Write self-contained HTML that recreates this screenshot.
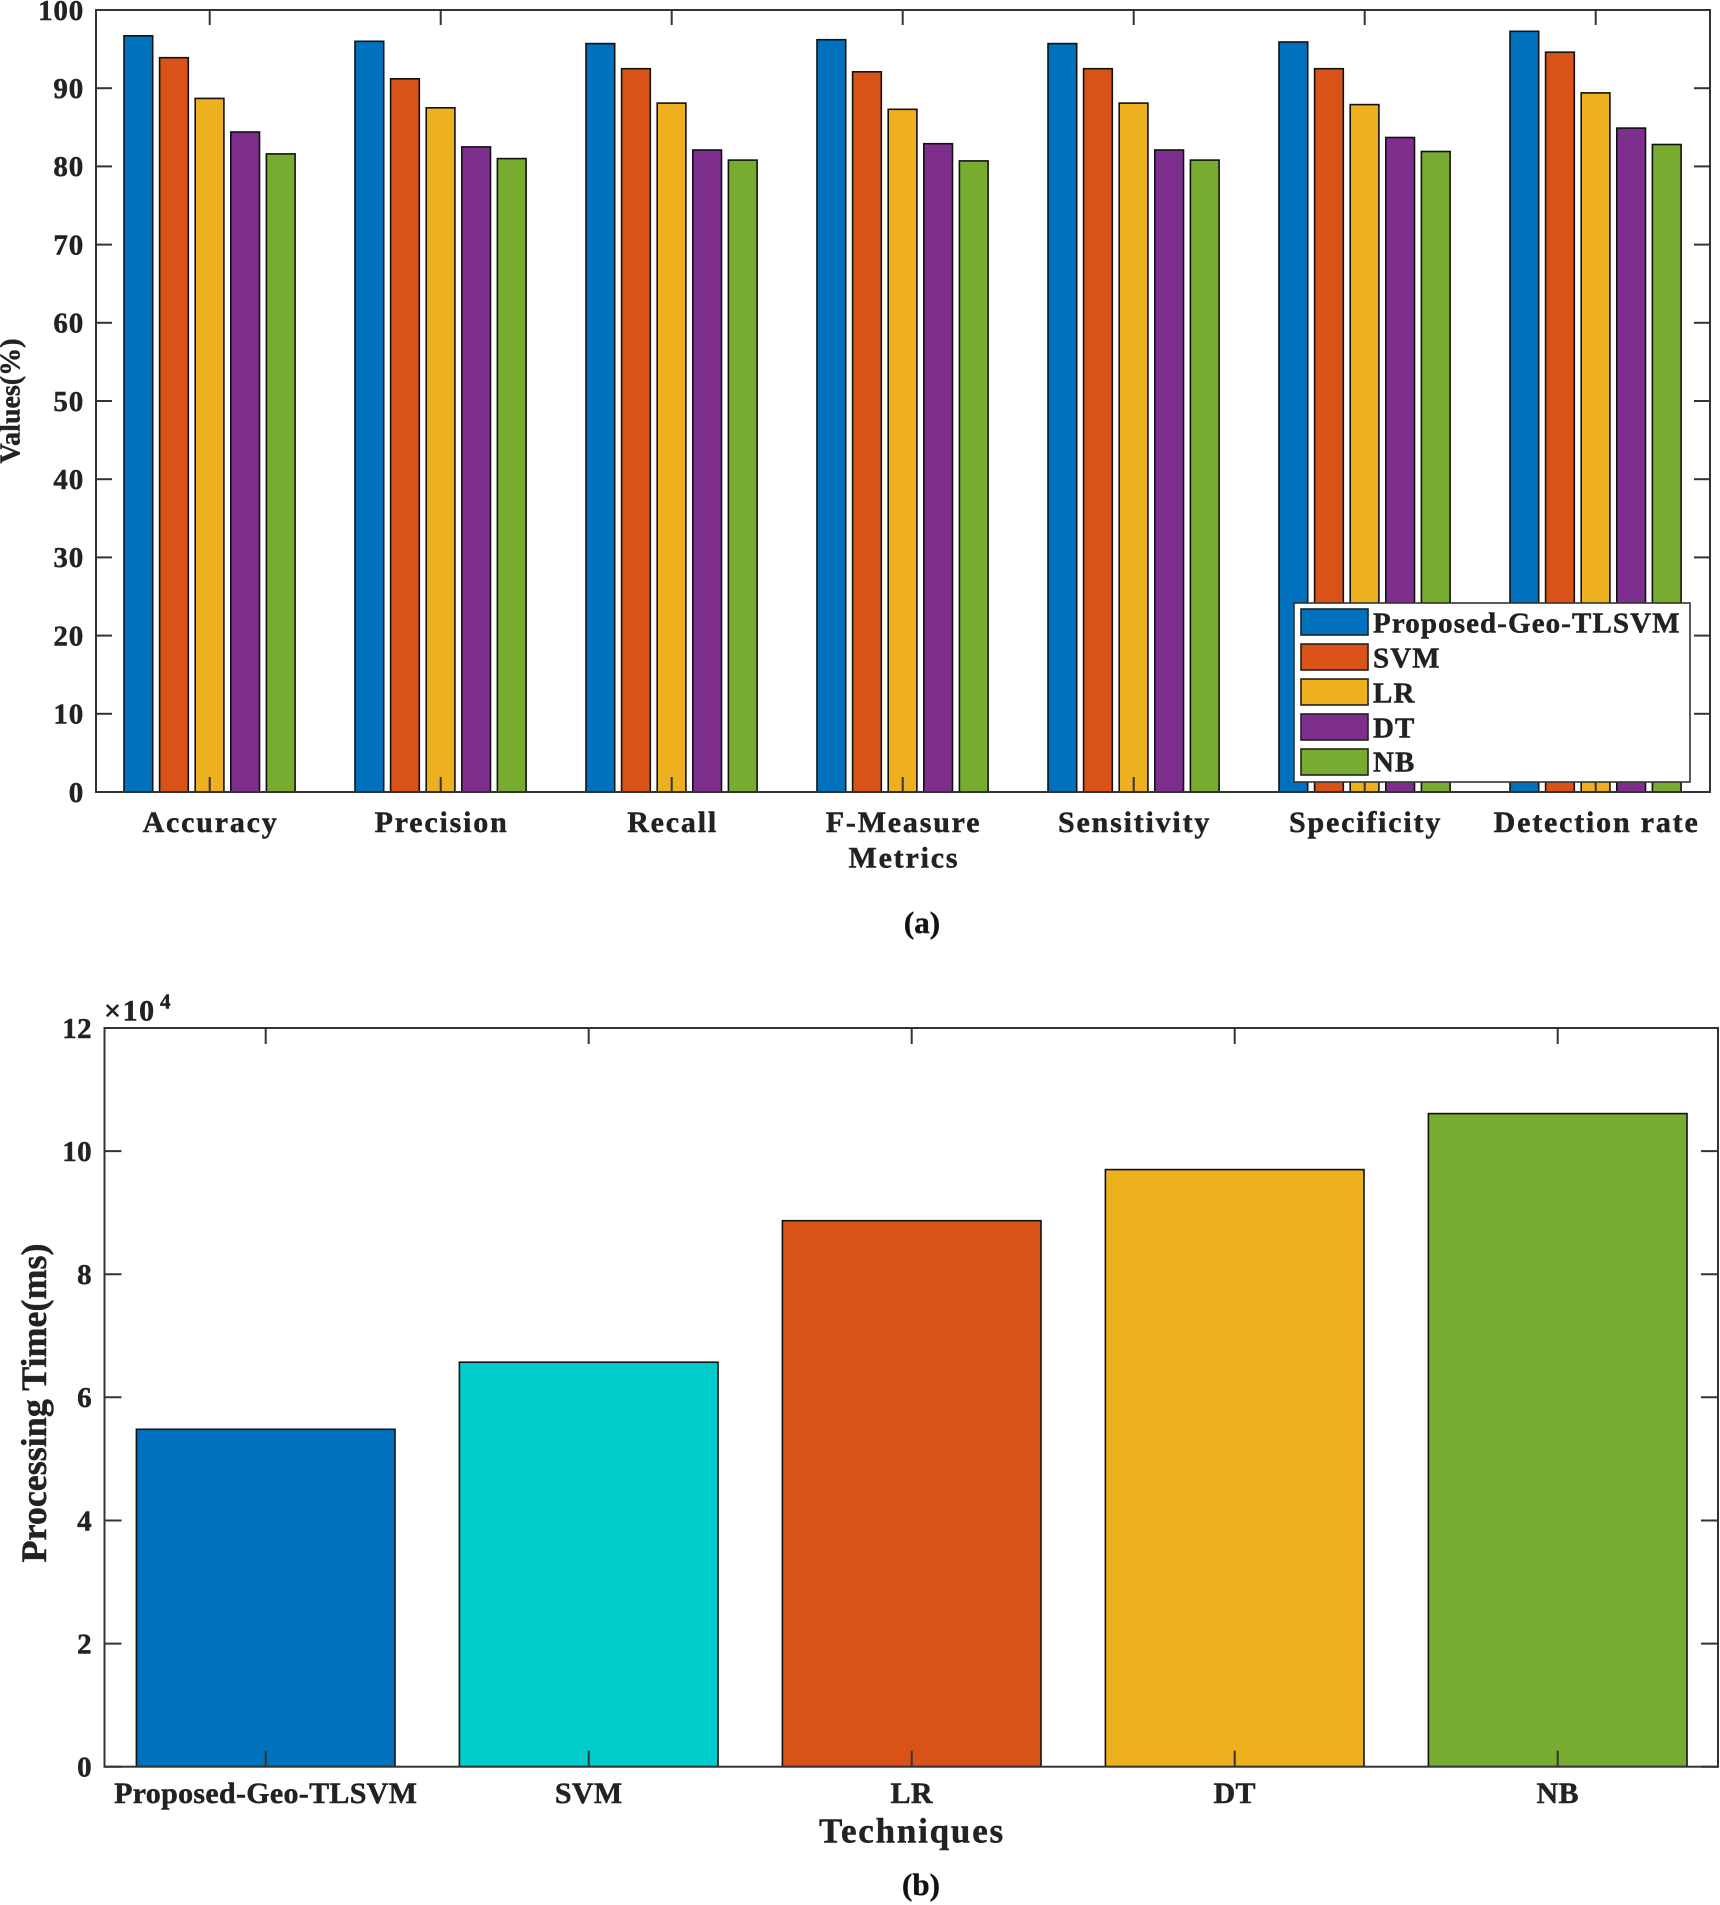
<!DOCTYPE html>
<html>
<head>
<meta charset="utf-8">
<style>
html,body{margin:0;padding:0;background:#fff;}
svg{display:block;}
text{font-family:"Liberation Serif","Times New Roman",serif;font-weight:bold;fill:#222;stroke:#222;stroke-width:0.45;}
</style>
</head>
<body>
<svg width="1720" height="1905" viewBox="0 0 1720 1905" xmlns="http://www.w3.org/2000/svg">
<rect x="0" y="0" width="1720" height="1905" fill="#fff"/>

<!-- ================= TOP CHART (a) ================= -->
<g stroke="#111" stroke-width="1.6">
<!-- Accuracy c=209.7 -->
<rect x="124.0" y="35.8" width="28.7" height="756.2" fill="#0072BD"/>
<rect x="159.6" y="57.7" width="28.7" height="734.3" fill="#D95319"/>
<rect x="195.2" y="98.4" width="28.7" height="693.6" fill="#EDB120"/>
<rect x="230.8" y="132.0" width="28.7" height="660.0" fill="#7E2F8E"/>
<rect x="266.4" y="153.9" width="28.7" height="638.1" fill="#77AC30"/>
<!-- Precision c=440.7 -->
<rect x="355.0" y="41.3" width="28.7" height="750.7" fill="#0072BD"/>
<rect x="390.6" y="78.8" width="28.7" height="713.2" fill="#D95319"/>
<rect x="426.2" y="107.8" width="28.7" height="684.2" fill="#EDB120"/>
<rect x="461.8" y="146.9" width="28.7" height="645.1" fill="#7E2F8E"/>
<rect x="497.4" y="158.6" width="28.7" height="633.4" fill="#77AC30"/>
<!-- Recall c=671.7 -->
<rect x="586.0" y="43.6" width="28.7" height="748.4" fill="#0072BD"/>
<rect x="621.6" y="68.7" width="28.7" height="723.3" fill="#D95319"/>
<rect x="657.2" y="103.1" width="28.7" height="688.9" fill="#EDB120"/>
<rect x="692.8" y="150.0" width="28.7" height="642.0" fill="#7E2F8E"/>
<rect x="728.4" y="160.1" width="28.7" height="631.9" fill="#77AC30"/>
<!-- F-Measure c=902.7 -->
<rect x="817.0" y="39.7" width="28.7" height="752.3" fill="#0072BD"/>
<rect x="852.6" y="71.8" width="28.7" height="720.2" fill="#D95319"/>
<rect x="888.2" y="109.3" width="28.7" height="682.7" fill="#EDB120"/>
<rect x="923.8" y="143.7" width="28.7" height="648.3" fill="#7E2F8E"/>
<rect x="959.4" y="160.9" width="28.7" height="631.1" fill="#77AC30"/>
<!-- Sensitivity c=1133.7 -->
<rect x="1048.0" y="43.6" width="28.7" height="748.4" fill="#0072BD"/>
<rect x="1083.6" y="68.7" width="28.7" height="723.3" fill="#D95319"/>
<rect x="1119.2" y="103.1" width="28.7" height="688.9" fill="#EDB120"/>
<rect x="1154.8" y="150.0" width="28.7" height="642.0" fill="#7E2F8E"/>
<rect x="1190.4" y="160.1" width="28.7" height="631.9" fill="#77AC30"/>
<!-- Specificity c=1364.7 -->
<rect x="1279.0" y="42.0" width="28.7" height="750.0" fill="#0072BD"/>
<rect x="1314.6" y="68.7" width="28.7" height="723.3" fill="#D95319"/>
<rect x="1350.2" y="104.6" width="28.7" height="687.4" fill="#EDB120"/>
<rect x="1385.8" y="137.5" width="28.7" height="654.5" fill="#7E2F8E"/>
<rect x="1421.4" y="151.5" width="28.7" height="640.5" fill="#77AC30"/>
<!-- Detection rate c=1595.7 -->
<rect x="1510.0" y="31.3" width="28.7" height="760.7" fill="#0072BD"/>
<rect x="1545.6" y="52.2" width="28.7" height="739.8" fill="#D95319"/>
<rect x="1581.2" y="92.9" width="28.7" height="699.1" fill="#EDB120"/>
<rect x="1616.8" y="128.1" width="28.7" height="663.9" fill="#7E2F8E"/>
<rect x="1652.4" y="144.5" width="28.7" height="647.5" fill="#77AC30"/>
</g>

<!-- top axes box -->
<rect x="96" y="10" width="1614" height="782" fill="none" stroke="#333" stroke-width="2"/>
<g stroke="#333" stroke-width="2">
<line x1="96" y1="792" x2="112" y2="792"/><line x1="1710" y1="792" x2="1694" y2="792"/>
<line x1="96" y1="713.8" x2="112" y2="713.8"/><line x1="1710" y1="713.8" x2="1694" y2="713.8"/>
<line x1="96" y1="635.6" x2="112" y2="635.6"/><line x1="1710" y1="635.6" x2="1694" y2="635.6"/>
<line x1="96" y1="557.4" x2="112" y2="557.4"/><line x1="1710" y1="557.4" x2="1694" y2="557.4"/>
<line x1="96" y1="479.2" x2="112" y2="479.2"/><line x1="1710" y1="479.2" x2="1694" y2="479.2"/>
<line x1="96" y1="401" x2="112" y2="401"/><line x1="1710" y1="401" x2="1694" y2="401"/>
<line x1="96" y1="322.8" x2="112" y2="322.8"/><line x1="1710" y1="322.8" x2="1694" y2="322.8"/>
<line x1="96" y1="244.6" x2="112" y2="244.6"/><line x1="1710" y1="244.6" x2="1694" y2="244.6"/>
<line x1="96" y1="166.4" x2="112" y2="166.4"/><line x1="1710" y1="166.4" x2="1694" y2="166.4"/>
<line x1="96" y1="88.2" x2="112" y2="88.2"/><line x1="1710" y1="88.2" x2="1694" y2="88.2"/>
<line x1="209.7" y1="792" x2="209.7" y2="777"/><line x1="209.7" y1="10" x2="209.7" y2="25"/>
<line x1="440.7" y1="792" x2="440.7" y2="777"/><line x1="440.7" y1="10" x2="440.7" y2="25"/>
<line x1="671.7" y1="792" x2="671.7" y2="777"/><line x1="671.7" y1="10" x2="671.7" y2="25"/>
<line x1="902.7" y1="792" x2="902.7" y2="777"/><line x1="902.7" y1="10" x2="902.7" y2="25"/>
<line x1="1133.7" y1="792" x2="1133.7" y2="777"/><line x1="1133.7" y1="10" x2="1133.7" y2="25"/>
<line x1="1364.7" y1="792" x2="1364.7" y2="777"/><line x1="1364.7" y1="10" x2="1364.7" y2="25"/>
<line x1="1595.7" y1="792" x2="1595.7" y2="777"/><line x1="1595.7" y1="10" x2="1595.7" y2="25"/>
</g>

<g font-size="29" text-anchor="end" letter-spacing="0.8">
<text x="84" y="801.8">0</text>
<text x="84" y="723.6">10</text>
<text x="84" y="645.4">20</text>
<text x="84" y="567.2">30</text>
<text x="84" y="489">40</text>
<text x="84" y="410.8">50</text>
<text x="84" y="332.6">60</text>
<text x="84" y="254.4">70</text>
<text x="84" y="176.2">80</text>
<text x="84" y="98">90</text>
<text x="84" y="19.8">100</text>
</g>

<g font-size="30" text-anchor="middle" letter-spacing="1.8">
<text x="210.6" y="832">Accuracy</text>
<text x="441.6" y="832">Precision</text>
<text x="672.6" y="832">Recall</text>
<text x="903.6" y="832">F-Measure</text>
<text x="1134.6" y="832">Sensitivity</text>
<text x="1365.6" y="832">Specificity</text>
<text x="1596.6" y="832">Detection rate</text>
<text x="903.9" y="867.3">Metrics</text>
</g>

<text font-size="28" text-anchor="middle" transform="translate(19.5,401) rotate(-90)">Values(%)</text>

<!-- legend -->
<rect x="1294" y="603" width="396" height="179" fill="#fff" stroke="#333" stroke-width="1.6"/>
<g stroke="#222" stroke-width="1.6">
<rect x="1301" y="609" width="67" height="26" fill="#0072BD"/>
<rect x="1301" y="644" width="67" height="26" fill="#D95319"/>
<rect x="1301" y="679" width="67" height="26" fill="#EDB120"/>
<rect x="1301" y="714" width="67" height="26" fill="#7E2F8E"/>
<rect x="1301" y="749" width="67" height="26" fill="#77AC30"/>
</g>
<g font-size="29" letter-spacing="1.1" style="fill:#111">
<text x="1373" y="632.7">Proposed-Geo-TLSVM</text>
<text x="1373" y="667.3">SVM</text>
<text x="1373" y="702.3">LR</text>
<text x="1373" y="737.3">DT</text>
<text x="1373" y="771.7">NB</text>
</g>

<text x="922" y="933" font-size="31" text-anchor="middle" style="fill:#111">(a)</text>

<!-- ================= BOTTOM CHART (b) ================= -->
<g stroke="#111" stroke-width="1.6">
<rect x="136.4" y="1429.3" width="258.6" height="337.4" fill="#0072BD"/>
<rect x="459.4" y="1362.2" width="258.6" height="404.5" fill="#00CCCC"/>
<rect x="782.4" y="1220.7" width="258.6" height="546.0" fill="#D95319"/>
<rect x="1105.4" y="1169.6" width="258.6" height="597.1" fill="#EDB120"/>
<rect x="1428.4" y="1113.6" width="258.6" height="653.1" fill="#77AC30"/>
</g>

<rect x="104.5" y="1028" width="1613.5" height="738.7" fill="none" stroke="#333" stroke-width="2"/>
<g stroke="#333" stroke-width="2">
<line x1="104.5" y1="1766.7" x2="121.5" y2="1766.7"/><line x1="1718" y1="1766.7" x2="1701" y2="1766.7"/>
<line x1="104.5" y1="1643.6" x2="121.5" y2="1643.6"/><line x1="1718" y1="1643.6" x2="1701" y2="1643.6"/>
<line x1="104.5" y1="1520.5" x2="121.5" y2="1520.5"/><line x1="1718" y1="1520.5" x2="1701" y2="1520.5"/>
<line x1="104.5" y1="1397.3" x2="121.5" y2="1397.3"/><line x1="1718" y1="1397.3" x2="1701" y2="1397.3"/>
<line x1="104.5" y1="1274.2" x2="121.5" y2="1274.2"/><line x1="1718" y1="1274.2" x2="1701" y2="1274.2"/>
<line x1="104.5" y1="1151.1" x2="121.5" y2="1151.1"/><line x1="1718" y1="1151.1" x2="1701" y2="1151.1"/>
<line x1="265.7" y1="1766.7" x2="265.7" y2="1750.7"/><line x1="265.7" y1="1028" x2="265.7" y2="1044"/>
<line x1="588.7" y1="1766.7" x2="588.7" y2="1750.7"/><line x1="588.7" y1="1028" x2="588.7" y2="1044"/>
<line x1="911.7" y1="1766.7" x2="911.7" y2="1750.7"/><line x1="911.7" y1="1028" x2="911.7" y2="1044"/>
<line x1="1234.7" y1="1766.7" x2="1234.7" y2="1750.7"/><line x1="1234.7" y1="1028" x2="1234.7" y2="1044"/>
<line x1="1557.7" y1="1766.7" x2="1557.7" y2="1750.7"/><line x1="1557.7" y1="1028" x2="1557.7" y2="1044"/>
</g>

<g font-size="29" text-anchor="end" letter-spacing="0.4">
<text x="92" y="1776.5">0</text>
<text x="92" y="1653.4">2</text>
<text x="92" y="1530.3">4</text>
<text x="92" y="1407.1">6</text>
<text x="92" y="1284">8</text>
<text x="92" y="1160.9">10</text>
<text x="92" y="1037.8">12</text>
</g>

<text x="104" y="1020.7" font-size="30" letter-spacing="1.5">×10</text>
<text x="160" y="1008.3" font-size="21">4</text>

<g font-size="30" text-anchor="middle" letter-spacing="0.3">
<text x="265.7" y="1803">Proposed-Geo-TLSVM</text>
<text x="588.7" y="1803">SVM</text>
<text x="911.7" y="1803">LR</text>
<text x="1234.7" y="1803">DT</text>
<text x="1557.7" y="1803">NB</text>
</g>
<text x="912" y="1842.7" font-size="35" text-anchor="middle" letter-spacing="1.8">Techniques</text>

<text font-size="36" text-anchor="middle" transform="translate(46,1403) rotate(-90)">Processing Time(ms)</text>

<text x="921" y="1895" font-size="31" text-anchor="middle" style="fill:#111">(b)</text>
</svg>
</body>
</html>
